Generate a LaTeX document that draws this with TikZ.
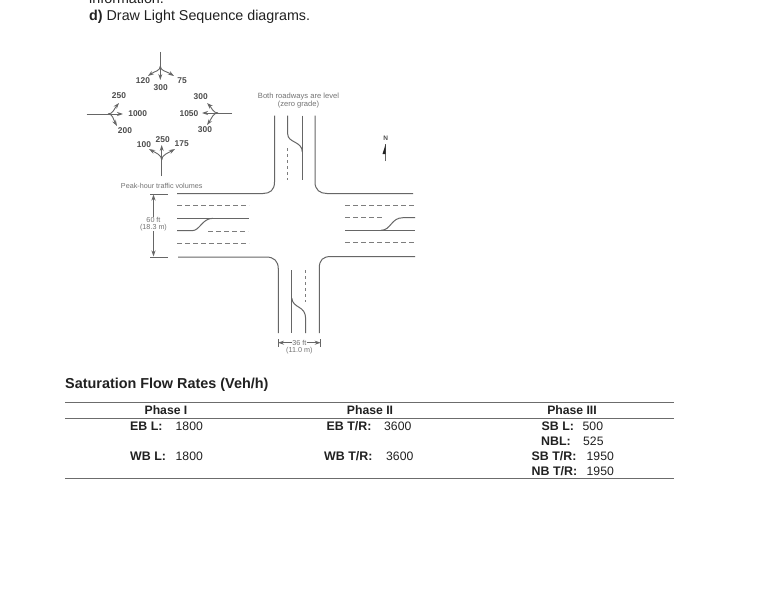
\documentclass[tikz,border=0pt]{standalone}
\usepackage{fontspec}
\setmainfont{Liberation Sans}
\usetikzlibrary{arrows.meta}
\definecolor{inkc}{gray}{0.13}
\definecolor{roadc}{gray}{0.4}
\definecolor{labc}{gray}{0.3}
\tikzset{
  roadline/.style={draw=roadc,line width=1pt},
  lanedash/.style={draw=roadc!85,line width=1pt,dash pattern=on 5pt off 3pt},
  vollink/.style={draw=roadc,line width=0.9pt,-{Stealth[length=6pt,width=4pt]}},
  stem/.style={draw=roadc,line width=0.9pt},
  rulec/.style={draw=gray!85!black,line width=0.7pt},
  vol/.style={inner sep=0pt,text=labc,font=\fontsize{8.4}{9}\selectfont\bfseries},
  note/.style={inner sep=0pt,text=gray!90!black,align=center,font=\fontsize{7.2}{7.6}\selectfont},
  body/.style={inner sep=0pt,anchor=base west,text=inkc,font=\fontsize{14.3}{16}\selectfont},
  head/.style={inner sep=0pt,anchor=base,text=inkc,font=\fontsize{12.2}{14}\selectfont\bfseries},
  tb/.style={inner sep=0pt,anchor=base west,text=inkc,font=\fontsize{12.4}{14}\selectfont\bfseries},
  tv/.style={inner sep=0pt,anchor=base west,text=inkc,font=\fontsize{12.2}{14}\selectfont},
}
\begin{document}
\begin{tikzpicture}[x=1pt,y=-1pt]
\useasboundingbox (0,0) rectangle (766,594);
\clip (0,0) rectangle (766,594);
\fill[white] (0,0) rectangle (766,594);

% heading text
\node[body] (t0) at (89,4) {information.};
\node[body] (t1) at (89,21) {\textbf{d)} Draw Light Sequence diagrams.};

% volume diagram: north
\coordinate (nA) at (160.3,52); \coordinate (nB) at (160.3,66);
\draw[stem] (nA) -- (nB);
\draw[vollink] (nB) .. controls (160.3,71) and (155,71) .. (148,76);
\draw[vollink] (nB) -- (160.3,80);
\draw[vollink] (nB) .. controls (160.3,71) and (166,71) .. (174,76);
% west
\coordinate (wA) at (86.7,114); \coordinate (wB) at (108,114);
\draw[stem] (wA) -- (wB);
\draw[vollink] (wB) .. controls (113,114) and (114,109) .. (119,103);
\draw[vollink] (wB) -- (123,114);
\draw[vollink] (wB) .. controls (113,114) and (113,119) .. (117,126);
% east
\coordinate (eA) at (232,113); \coordinate (eB) at (218,113);
\draw[stem] (eA) -- (eB);
\draw[vollink] (eB) .. controls (213,113) and (212,108) .. (207,103);
\draw[vollink] (eB) -- (202,113);
\draw[vollink] (eB) .. controls (213,113) and (212,118) .. (207,125);
% south
\coordinate (sA) at (161.7,176); \coordinate (sB) at (161.7,160);
\draw[stem] (sA) -- (sB);
\draw[vollink] (sB) .. controls (161.7,155) and (156,153) .. (149,149);
\draw[vollink] (sB) -- (161.7,145);
\draw[vollink] (sB) .. controls (161.7,155) and (168,153) .. (175,149);

\node[vol] (v1) at (143,81) {120};
\node[vol] (v2) at (160.7,87.5) {300};
\node[vol] (v3) at (182,81) {75};
\node[vol] (v4) at (119,96) {250};
\node[vol] (v5) at (137.7,113.5) {1000};
\node[vol] (v6) at (125,131) {200};
\node[vol] (v7) at (200.7,97) {300};
\node[vol] (v8) at (189,113.5) {1050};
\node[vol] (v9) at (205,130) {300};
\node[vol] (v10) at (144,145) {100};
\node[vol] (v11) at (162.7,140) {250};
\node[vol] (v12) at (181.7,144) {175};
\node[note] (peak) at (161.7,186) {Peak-hour traffic volumes};
\node[note,font=\fontsize{7.6}{7.8}\selectfont] (level) at (298.5,100.5) {Both roadways are level\\(zero grade)};

% curbs
\draw[roadline] (150,194) -- (168,194);
\draw[roadline] (150,257) -- (168,257);
\draw[roadline] (274.5,115.7) -- (274.5,182) .. controls (274.5,190) and (270,193.5) .. (263,193.5) -- (177,193.5);
\draw[roadline] (315,115.7) -- (315,182) .. controls (315,190) and (320,193.5) .. (327,193.5) -- (413,193.5);
\draw[roadline] (178,257) -- (266,257) .. controls (274,257) and (278.3,261) .. (278.3,269) -- (278.3,333);
\draw[roadline] (415,256.5) -- (331,256.5) .. controls (323,256.5) and (319.3,260) .. (319.3,268) -- (319.3,333);

% west leg lanes
\draw[lanedash] (177,205.7) -- (249,205.7);
\draw[roadline] (177,218.3) -- (249,218.3);
\draw[roadline] (177,230.7) -- (192,230.7) .. controls (200,230.7) and (202,218.3) .. (213,218.3);
\draw[lanedash] (208,231) -- (248,231);
\draw[lanedash] (177,243.3) -- (249,243.3);
% east leg lanes
\draw[lanedash] (345,205) -- (415,205);
\draw[lanedash] (345,217.7) -- (383,217.7);
\draw[roadline] (345,230.3) -- (415,230.3);
\draw[roadline] (381,230.3) .. controls (391,230.3) and (391,217.7) .. (403,217.7) -- (415,217.7);
\draw[lanedash] (345,242.7) -- (415,242.7);
% north leg lanes
\draw[roadline] (287.7,115.7) -- (287.7,134) .. controls (287.7,143) and (302.3,141) .. (302.3,152);
\draw[roadline] (302.3,115.7) -- (302.3,180);
\draw[lanedash,dash pattern=on 3pt off 3pt] (287.7,148) -- (287.7,180);
% south leg lanes
\draw[roadline] (291.7,270) -- (291.7,333);
\draw[roadline] (291.7,298) .. controls (293,309) and (305.7,305) .. (305.7,319) -- (305.7,333);
\draw[lanedash,dash pattern=on 3pt off 3pt] (305.7,270) -- (305.7,301.7);

% 60 ft dimension
\node[note] (d60) at (153.5,224) {60 ft\\(18.3 m)};
\coordinate (dT) at (153.5,194.5); \coordinate (dB) at (153.5,256.5);
\draw[vollink] (d60.north) -- (dT);
\draw[vollink] (d60.south) -- (dB);

% 36 ft dimension
\node[note] (d36) at (299.3,342.7) {36 ft};
\node[note] (d11) at (299.3,350.5) {(11.0 m)};
\coordinate (dL) at (278,342.7); \coordinate (dR) at (320.7,342.7);
\draw[stem] (278,339) -- (278,346.5);
\draw[stem] (320.7,339) -- (320.7,346.5);
\draw[vollink] (d36.west) -- (dL);
\draw[vollink] (d36.east) -- (dR);

% north arrow
\node[vol,font=\fontsize{6.5}{7}\selectfont\bfseries] (north) at (385.7,138.3) {N};
\coordinate (nTail) at (385.7,161); \coordinate (nTip) at (385.7,144);
\draw[stem] (nTail) -- (nTip);
\fill[inkc] (nTip) -- (382.5,154) -- (385.7,154) -- cycle;

% table
\node[inner sep=0pt,anchor=base west,text=inkc,font=\fontsize{14.4}{16}\selectfont\bfseries] (title) at (65,388) {Saturation Flow Rates (Veh/h)};
\draw[rulec] (65,402.3) -- (674,402.3);
\draw[rulec] (65,418.3) -- (674,418.3);
\draw[rulec] (65,478.6) -- (674,478.6);
\node[head] (p1) at (166,414.5) {Phase I};
\node[head] (p2) at (370,414.5) {Phase II};
\node[head] (p3) at (572,414.5) {Phase III};
\node[tb] (a1) at (130,430.5) {EB L:};
\node[tv] (a2) at (175.5,430.5) {1800};
\node[tb] (b1) at (130,460.5) {WB L:};
\node[tv] (b2) at (175.5,460.5) {1800};
\node[tb] (c1) at (326.5,430.5) {EB T/R:};
\node[tv] (c2) at (384,430.5) {3600};
\node[tb] (d1) at (324,460.5) {WB T/R:};
\node[tv] (d2) at (386,460.5) {3600};
\node[tb] (e1) at (541.5,430.5) {SB L:};
\node[tv] (e2) at (582.5,430.5) {500};
\node[tb] (f1) at (541,445.5) {NBL:};
\node[tv] (f2) at (583,445.5) {525};
\node[tb] (g1) at (531.5,460.5) {SB T/R:};
\node[tv] (g2) at (586.5,460.5) {1950};
\node[tb] (h1) at (531.5,475.5) {NB T/R:};
\node[tv] (h2) at (586.5,475.5) {1950};
\end{tikzpicture}
\end{document}
